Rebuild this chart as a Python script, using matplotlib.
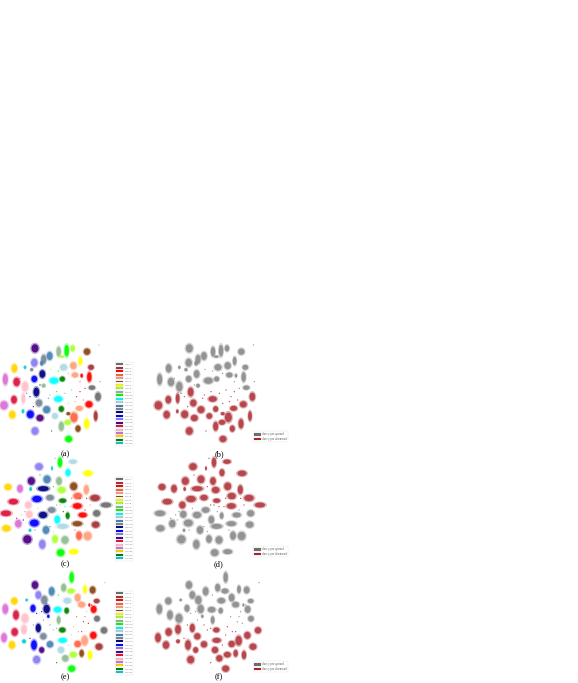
import matplotlib
matplotlib.use('Agg')
import matplotlib.pyplot as plt
from matplotlib.patches import Ellipse, Patch

W, H = 578, 683

# Class colours, in legend order
class_colors = ['#6e6e6e', '#a83236', '#ff0000', '#ff6347', '#ffa07a', '#8b4513',
                '#ffff00', '#adff2f', '#8fbc8f', '#00ff00', '#00ffff', '#add8e6',
                '#4682b4', '#778899', '#000080', '#0000ff', '#8a7df0', '#4b0082',
                '#dc143c', '#ffc0cb', '#da70d6', '#ffd700', '#008000', '#00ced1']
class_names = ['class %d' % (i + 1) for i in range(len(class_colors))]
group_names = ['class y pro upward', 'class y pro downward']
group_colors = ['#8c8c8c', '#b23b40']

# Embedding clusters: x, y, width, height, class index
clusters_a = [
    (105, 40, 22, 26, 17), (103, 83, 20, 25, 16), (131, 73, 16, 28, 13), (149, 63, 18, 25, 12),
    (176, 50, 14, 30, 8), (200, 47, 14, 36, 9), (218, 40, 14, 20, 7), (261, 50, 20, 20, 5),
    (186, 65, 14, 8, 7), (191, 97, 22, 20, 11), (220, 92, 20, 22, 4), (241, 78, 12, 26, 6),
    (273, 97, 18, 16, 1), (225, 120, 20, 16, 4), (268, 126, 14, 30, 2), (245, 122, 8, 12, 2),
    (43, 100, 18, 26, 21), (75, 97, 8, 10, 23), (95, 104, 10, 10, 13), (125, 85, 10, 15, 12),
    (127, 117, 18, 24, 14), (103, 132, 18, 20, 15), (16, 133, 16, 34, 20), (50, 141, 20, 26, 18),
    (162, 137, 28, 20, 10), (187, 132, 16, 16, 22), (131, 152, 12, 12, 8), (276, 158, 20, 14, 0),
    (75, 155, 20, 30, 19), (109, 171, 18, 28, 14), (70, 190, 12, 30, 19), (175, 192, 26, 18, 10),
    (294, 185, 18, 26, 0), (42, 194, 18, 24, 18), (12, 211, 24, 26, 20), (117, 204, 20, 22, 13),
    (267, 208, 22, 20, 2), (140, 224, 22, 22, 12), (184, 222, 16, 18, 22), (238, 220, 22, 16, 4),
    (287, 243, 12, 30, 1), (37, 239, 20, 24, 21), (69, 229, 8, 12, 23), (91, 238, 22, 24, 15),
    (120, 249, 22, 20, 17), (165, 243, 18, 18, 11), (205, 236, 12, 10, 5), (222, 247, 22, 30, 3),
    (203, 262, 20, 16, 7), (184, 274, 16, 28, 8), (260, 266, 16, 30, 6), (234, 281, 16, 20, 5),
    (105, 288, 22, 24, 16), (206, 312, 22, 20, 9),
]
clusters_c = [
    (180, 22, 14, 30, 9), (219, 20, 24, 14, 11), (117, 35, 24, 22, 16), (156, 40, 6, 12, 23),
    (204, 53, 16, 22, 10), (264, 55, 28, 18, 6), (94, 78, 22, 24, 17), (141, 73, 22, 24, 12),
    (177, 78, 18, 24, 8), (221, 94, 22, 24, 5), (24, 96, 22, 20, 21), (60, 101, 18, 24, 20),
    (92, 102, 8, 12, 23), (130, 101, 34, 16, 14), (185, 105, 24, 20, 7), (259, 104, 16, 28, 4),
    (233, 123, 26, 20, 3), (285, 129, 30, 20, 1), (111, 132, 30, 20, 15), (150, 128, 24, 18, 13),
    (188, 137, 22, 14, 22), (40, 140, 30, 18, 18), (318, 150, 32, 16, 0), (232, 153, 28, 18, 2),
    (155, 165, 24, 18, 13), (85, 150, 20, 22, 19), (88, 178, 20, 22, 19), (18, 175, 32, 18, 18),
    (129, 180, 26, 20, 14), (203, 182, 12, 20, 22), (248, 180, 26, 16, 2), (290, 175, 22, 20, 0),
    (55, 206, 20, 24, 20), (172, 194, 18, 24, 10), (103, 204, 28, 22, 15), (232, 206, 30, 16, 5),
    (287, 209, 24, 20, 1), (19, 220, 26, 20, 21), (188, 214, 34, 16, 11), (138, 225, 20, 24, 12),
    (90, 226, 8, 10, 23), (237, 242, 18, 26, 3), (263, 243, 24, 26, 4), (82, 253, 26, 26, 17),
    (165, 252, 18, 24, 7), (195, 255, 22, 24, 8), (127, 268, 20, 28, 16), (221, 290, 28, 16, 6),
    (182, 293, 24, 22, 9),
]
clusters_e = [
    (215, 22, 14, 32, 9), (278, 60, 18, 22, 5), (255, 58, 12, 24, 6), (213, 63, 22, 16, 7),
    (191, 53, 16, 24, 8), (155, 64, 18, 26, 12), (105, 45, 20, 24, 17), (115, 75, 18, 24, 16),
    (133, 90, 20, 26, 13), (43, 93, 20, 22, 21), (80, 90, 8, 8, 23), (16, 117, 18, 30, 20),
    (48, 135, 18, 28, 18), (99, 115, 16, 22, 15), (140, 117, 20, 26, 14), (173, 119, 24, 18, 10),
    (202, 92, 24, 18, 11), (200, 122, 14, 18, 22), (233, 83, 18, 24, 4), (245, 104, 22, 18, 4),
    (290, 93, 18, 14, 1), (281, 118, 18, 22, 2), (268, 105, 6, 10, 2), (291, 146, 18, 18, 0),
    (176, 150, 12, 24, 8), (75, 145, 22, 28, 19), (115, 174, 16, 26, 14), (145, 139, 8, 10, 15),
    (72, 178, 18, 28, 19), (312, 181, 20, 20, 0), (44, 186, 20, 24, 18), (130, 199, 20, 20, 13),
    (187, 180, 20, 16, 22), (280, 196, 20, 22, 2), (12, 203, 18, 28, 20), (36, 225, 20, 24, 21),
    (72, 214, 12, 12, 23), (102, 225, 18, 30, 15), (125, 240, 16, 18, 17), (150, 223, 20, 20, 12),
    (188, 211, 26, 16, 10), (183, 240, 20, 20, 11), (254, 212, 20, 30, 4), (233, 222, 20, 20, 3),
    (245, 250, 14, 22, 5), (297, 230, 22, 20, 1), (220, 254, 22, 18, 7), (270, 255, 14, 26, 6),
    (196, 265, 20, 20, 8), (110, 269, 22, 24, 16), (215, 296, 22, 20, 9),
]

# Stray points scattered between the clusters: x, y, class index
strays_a = [
    (152, 103, 7), (175, 108, 9), (205, 115, 4), (240, 140, 3), (255, 160, 2), (215, 165, 10),
    (230, 185, 1), (225, 200, 4), (150, 180, 10), (145, 190, 13), (90, 185, 15), (80, 175, 16),
    (100, 215, 17), (205, 205, 11), (195, 175, 8), (250, 195, 3), (155, 288, 22), (297, 30, 4),
    (60, 130, 20), (300, 140, 3), (225, 235, 7), (120, 150, 14), (170, 170, 9), (240, 170, 2),
]
strays_c = [
    (165, 10, 8), (160, 95, 9), (120, 60, 12), (65, 180, 21), (75, 170, 20), (50, 190, 18),
    (170, 150, 8), (195, 155, 10), (180, 150, 21), (210, 155, 4), (215, 130, 3), (260, 130, 1),
    (270, 150, 4), (150, 215, 12), (105, 225, 16), (225, 225, 3), (255, 165, 2), (70, 195, 15),
    (190, 170, 22), (115, 160, 19), (160, 230, 11), (240, 130, 5),
]
strays_e = [
    (315, 38, 4), (175, 75, 9), (125, 125, 15), (130, 150, 16), (110, 130, 15), (170, 175, 8),
    (160, 180, 10), (220, 170, 21), (230, 140, 3), (250, 155, 1), (265, 160, 2), (235, 185, 4),
    (245, 185, 5), (215, 195, 7), (205, 225, 11), (170, 278, 22), (150, 165, 13), (100, 165, 16),
    (275, 105, 2), (260, 125, 7), (90, 205, 17), (255, 140, 3),
]

# y position separating the upward and downward halves in each embedding
split_a, split_c, split_e = 165, 158, 165

# caption left, caption right, clusters, strays, split, upward on top,
# crop top, crop height, right panel shift, class legend top, group legend bottom
panels = [
    ('(a)', '(b)', clusters_a, strays_a, split_a, True, 335, 125, 28, 362, 442),
    ('(c)', '(d)', clusters_c, strays_c, split_c, False, 455, 115, 27, 477, 557),
    ('(e)', '(f)', clusters_e, strays_e, split_e, True, 570, 113, 27, 591, 672),
]


def make_axes(fig, x0, y0, w, h, shift):
    ax = fig.add_axes([x0 / W, 1 - (y0 + h) / H, w / W, h / H])
    ax.set_xlim(-shift, w * 3 - shift)
    ax.set_ylim(h * 3, 0)
    ax.axis('off')
    return ax


def group_of(y, split, up_on_top):
    return 0 if (y < split) == up_on_top else 1


def draw_blob(ax, x, y, w, h, col):
    # pale halo under a denser core, the clouds have soft edges
    ax.add_patch(Ellipse((x, y), w * 1.3, h * 1.3, fc=col, ec='none', alpha=0.35))
    ax.add_patch(Ellipse((x, y), w * 0.95, h * 0.95, fc=col, ec='none', alpha=0.9))


plt.rcParams['font.family'] = ['Liberation Serif', 'DejaVu Serif']
fig = plt.figure(figsize=(W / 100, H / 100), dpi=100)

for cap_l, cap_r, clusters, strays, split, up_on_top, top, height, shift, leg_top, leg_bot in panels:
    # Left: coloured by class
    ax = make_axes(fig, 0, top, 145, height, 0)
    for x, y, w, h, c in clusters:
        draw_blob(ax, x, y, w, h, class_colors[c])
    ax.scatter([p[0] for p in strays], [p[1] for p in strays],
               c=[class_colors[p[2]] for p in strays], s=0.8, linewidths=0)
    handles = [Patch(fc=col, ec='#555555', lw=0.1) for col in class_colors]
    leg = ax.legend(handles, class_names, loc='upper left',
                    bbox_to_anchor=(115 / 145, (top + height - leg_top) / height),
                    borderaxespad=0, fontsize=1.6, labelspacing=0.65, handlelength=3.0,
                    handleheight=1.0, handletextpad=0.7, borderpad=0.6, edgecolor='#dddddd',
                    labelcolor='#555555')
    leg.get_frame().set_linewidth(0.3)

    # Right: coloured by upward / downward
    ax2 = make_axes(fig, 145, top, 145, height, shift)
    for x, y, w, h, c in clusters:
        draw_blob(ax2, x, y, w, h, group_colors[group_of(y, split, up_on_top)])
    ax2.scatter([p[0] for p in strays], [p[1] for p in strays],
                c=[group_colors[group_of(p[1], split, up_on_top)] for p in strays],
                s=0.8, linewidths=0)
    handles = [Patch(fc=col, ec='#555555', lw=0.1) for col in ['#6e6e6e', '#b01c2e']]
    leg2 = ax2.legend(handles, group_names, loc='lower right',
                      bbox_to_anchor=(143 / 145, (top + height - leg_bot) / height),
                      borderaxespad=0, fontsize=2.0, labelspacing=0.15, handlelength=2.4,
                      handleheight=0.9, handletextpad=0.5, borderpad=0.4, edgecolor='#dddddd',
                      labelcolor='#555555')
    leg2.get_frame().set_linewidth(0.3)

    fig.text(65 / W, 1 - (top + height - 6) / H, cap_l, fontsize=6, ha='center', va='center')
    fig.text(219 / W, 1 - (top + height - 6) / H, cap_r, fontsize=6, ha='center', va='center')

fig.savefig('out.png', dpi=100)
